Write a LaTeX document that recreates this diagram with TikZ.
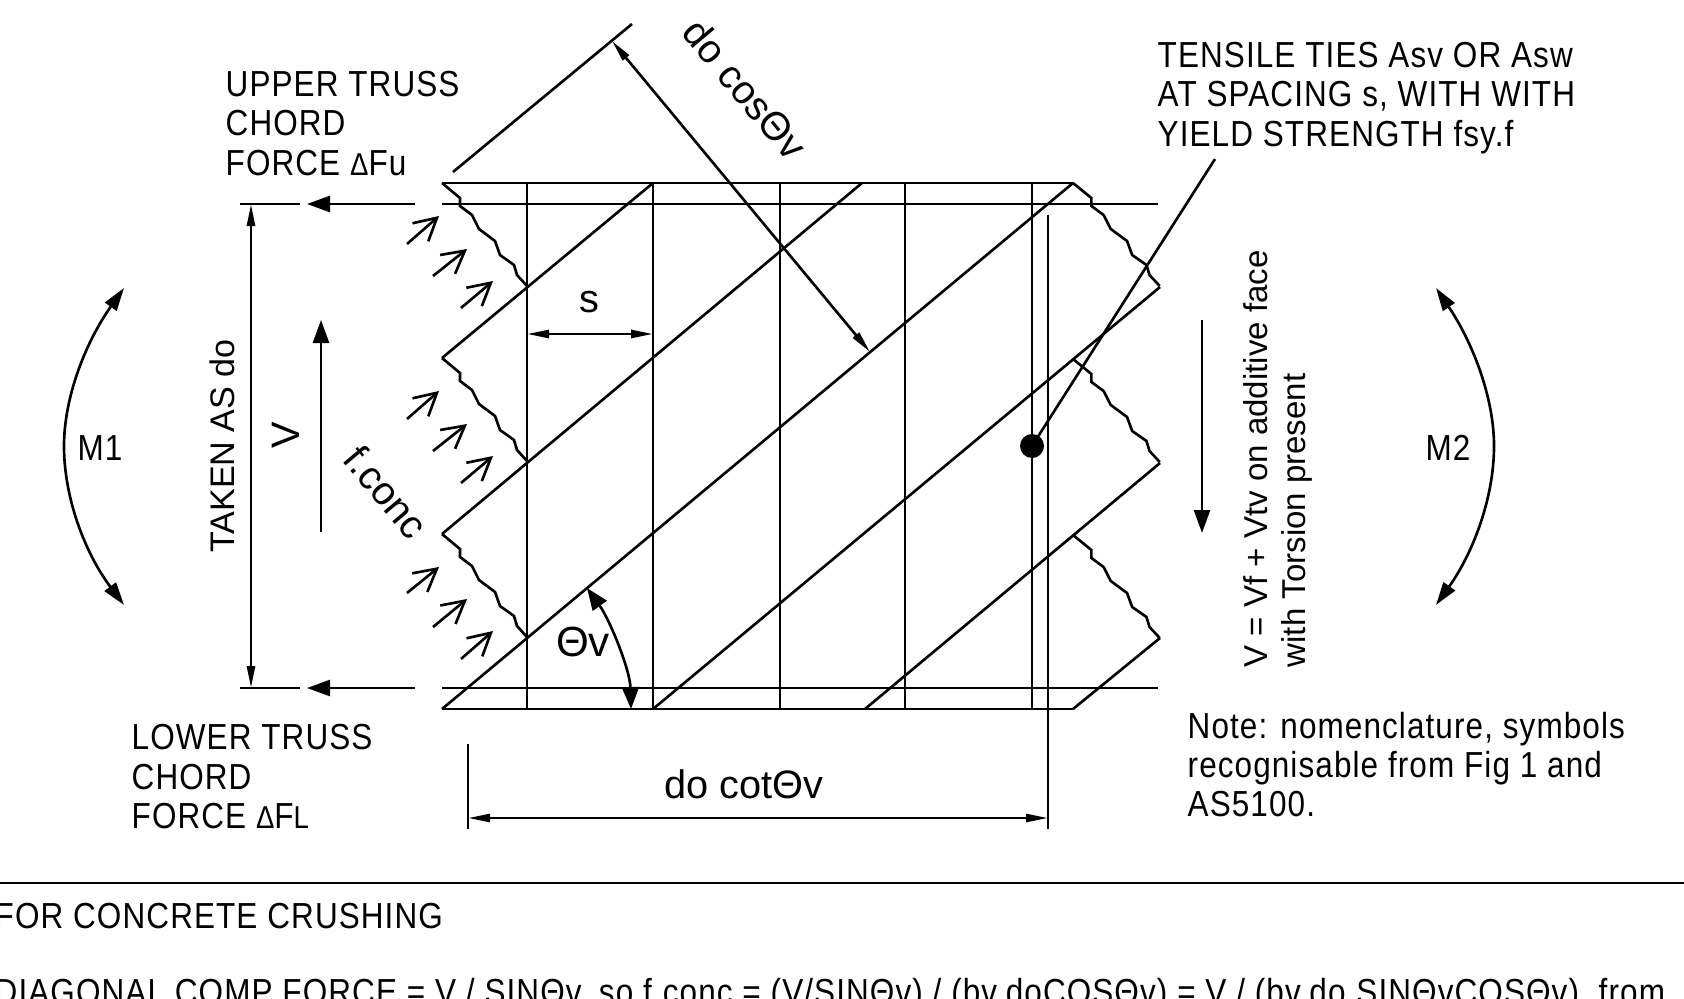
\documentclass[tikz,border=0pt]{standalone}
\usepackage{fontspec}
\usepackage{xcolor}
\usetikzlibrary{arrows.meta}
\setmainfont{Liberation Sans}[FakeStretch=0.87,LetterSpace=3]
\newfontfamily\narrowfont{Liberation Sans}
\def\jagline{(0,0) -- (.18,-.15) -- (.18,-.23) -- (.30,-.32) -- (.37,-.46) -- (.53,-.58) -- (.58,-.72) -- (.72,-.82) -- (.75,-.92) -- (.85,-1.03)}
\tikzset{
  base/.style={line width=0.75pt},
  dimline/.style={base,{Triangle[length=.22cm,width=.08cm]}-{Triangle[length=.22cm,width=.08cm]}},
  forcearr/.style={base,-{Triangle[length=.23cm,width=.16cm]}},
  momentarr/.style={base,{Triangle[length=.23cm,width=.14cm]}-{Triangle[length=.23cm,width=.14cm]}},
  anglearr/.style={base,{Triangle[length=.22cm,width=.17cm]}-{Triangle[length=.22cm,width=.17cm]}},
  openarr/.style={base,-{Straight Barb[length=.22cm,width=.24cm]}},
  labeltext/.style={inner sep=0pt,align=left,anchor=north west,font=\fontsize{10.3}{11.1}\selectfont},
  bigtext/.style={inner sep=0pt,font=\narrowfont\fontsize{11.3}{13}\selectfont}
}
\begin{document}
\begin{tikzpicture}
\path[use as bounding box,clip] (0,0) rectangle (16.84,9.98);
\draw[base] (4.42,8.15) -- (10.73,8.15);
\draw[base] (4.42,2.89) -- (10.73,2.89);
\draw[base] (4.42,7.94) -- (11.58,7.94);
\draw[base] (4.42,3.10) -- (11.58,3.10);
\draw[base] (5.27,8.15) -- (5.27,2.89);
\draw[base] (6.53,8.15) -- (6.53,2.89);
\draw[base] (7.80,8.15) -- (7.80,2.89);
\draw[base] (9.05,8.15) -- (9.05,2.89);
\draw[base] (10.32,8.15) -- (10.32,2.89);
\draw[base] (10.48,7.83) -- (10.48,1.69);
\draw[base] (4.42,2.89) -- (10.73,8.15);
\draw[base] (4.42,4.64) -- (8.62,8.15);
\draw[base] (4.42,6.40) -- (6.53,8.15);
\draw[base] (6.53,2.89) -- (11.60,7.11);
\draw[base] (8.65,2.89) -- (11.60,5.35);
\draw[base] (10.73,2.89) -- (11.60,3.60);
\draw[base,shift={(4.42,8.15)}] \jagline;
\draw[base,shift={(4.42,6.40)}] \jagline;
\draw[base,shift={(4.42,4.64)}] \jagline;
\draw[base,shift={(10.73,8.15)},xscale=1.02] \jagline;
\draw[base,shift={(10.73,6.39)},xscale=1.02] \jagline;
\draw[base,shift={(10.73,4.63)},xscale=1.02] \jagline;
\draw[openarr] (4.07,7.54) -- (4.39,7.82);
\draw[openarr] (4.33,7.22) -- (4.67,7.49);
\draw[openarr] (4.61,6.90) -- (4.93,7.17);
\draw[openarr] (4.07,5.79) -- (4.39,6.07);
\draw[openarr] (4.33,5.47) -- (4.67,5.74);
\draw[openarr] (4.61,5.15) -- (4.93,5.42);
\draw[openarr] (4.07,4.05) -- (4.39,4.31);
\draw[openarr] (4.33,3.71) -- (4.67,3.99);
\draw[openarr] (4.61,3.39) -- (4.93,3.67);
\draw[base] (2.40,7.94) -- (3.00,7.94);
\draw[base] (2.40,3.10) -- (3.00,3.10);
\draw[forcearr] (4.15,7.94) -- (3.07,7.94);
\draw[forcearr] (4.15,3.10) -- (3.07,3.10);
\draw[dimline] (2.51,7.94) -- (2.51,3.10);
\draw[forcearr] (3.21,4.66) -- (3.21,6.78);
\draw[forcearr] (12.02,6.78) -- (12.02,4.65);
\draw[dimline] (5.27,6.64) -- (6.53,6.64);
\draw[base] (4.53,8.26) -- (6.32,9.74);
\draw[dimline] (6.12,9.57) -- (8.70,6.46);
\draw[base] (4.68,2.54) -- (4.68,1.69);
\draw[dimline] (4.68,1.80) -- (10.48,1.80);
\draw[anglearr] (5.87,4.10) .. controls (6.10,3.78) and (6.30,3.28) .. (6.31,2.89);
\draw[momentarr] (1.24,7.10) .. controls (.85,6.55) and (.64,6.00) .. (.64,5.52) .. controls (.64,5.00) and (.85,4.45) .. (1.24,3.93);
\draw[momentarr] (14.36,7.10) .. controls (14.73,6.55) and (14.94,6.00) .. (14.94,5.52) .. controls (14.94,5.00) and (14.73,4.45) .. (14.36,3.93);
\fill (10.32,5.52) circle (.12);
\draw[base] (10.32,5.52) -- (12.15,8.39);
\draw[base] (0,1.15) -- (16.84,1.15);
\node[labeltext] (upperlabel) at (2.25,9.27) {UPPER TRUSS\\CHORD\\FORCE {\small Δ}Fu};
\node[labeltext] (lowerlabel) at (1.31,2.74) {LOWER TRUSS\\CHORD\\FORCE {\small Δ}F{\small L}};
\node[labeltext] (tieslabel) at (11.57,9.56) {TENSILE TIES Asv OR Asw\\AT SPACING s, WITH WITH\\YIELD STRENGTH fsy.f};
\node[labeltext] (notelabel) at (11.87,2.86) {Note: nomenclature, symbols\\recognisable from Fig 1 and\\AS5100.};
\node[labeltext,anchor=center] (mleft) at (1.00,5.50) {M1};
\node[labeltext,anchor=center] (mright) at (14.48,5.50) {M2};
\node[bigtext,rotate=90,font=\narrowfont\fontsize{9.7}{11}\selectfont] (dolabel) at (2.22,5.52) {TAKEN AS do};
\node[bigtext,rotate=90] (vleft) at (2.86,5.63) {V};
\node[bigtext,rotate=-50] (fconc) at (3.86,5.06) {f.conc};
\node[bigtext,rotate=-50] (docos) at (7.45,9.09) {do cosΘv};
\node[bigtext] (slabel) at (5.89,6.96) {s};
\node[bigtext,font=\narrowfont\fontsize{12}{14}\selectfont] (thetalabel) at (5.83,3.56) {Θv};
\node[bigtext] (docot) at (7.44,2.14) {do cotΘv};
\node[bigtext,rotate=90,align=left,anchor=south west,font=\narrowfont\fontsize{9.4}{10.8}\selectfont] (vtext) at (13.13,3.30) {V = Vf + Vtv on additive face\\with Torsion present};
\node[labeltext,anchor=base west] (crushing) at (-.06,.70) {FOR CONCRETE CRUSHING};
\node[labeltext,anchor=base west] (lastline) at (-.06,-.06) {DIAGONAL COMP FORCE = V / SINΘv, so f.conc = (V/SINΘv) / (bv.doCOSΘv) = V / (bv.do.SINΘvCOSΘv), from};
\end{tikzpicture}
\end{document}
